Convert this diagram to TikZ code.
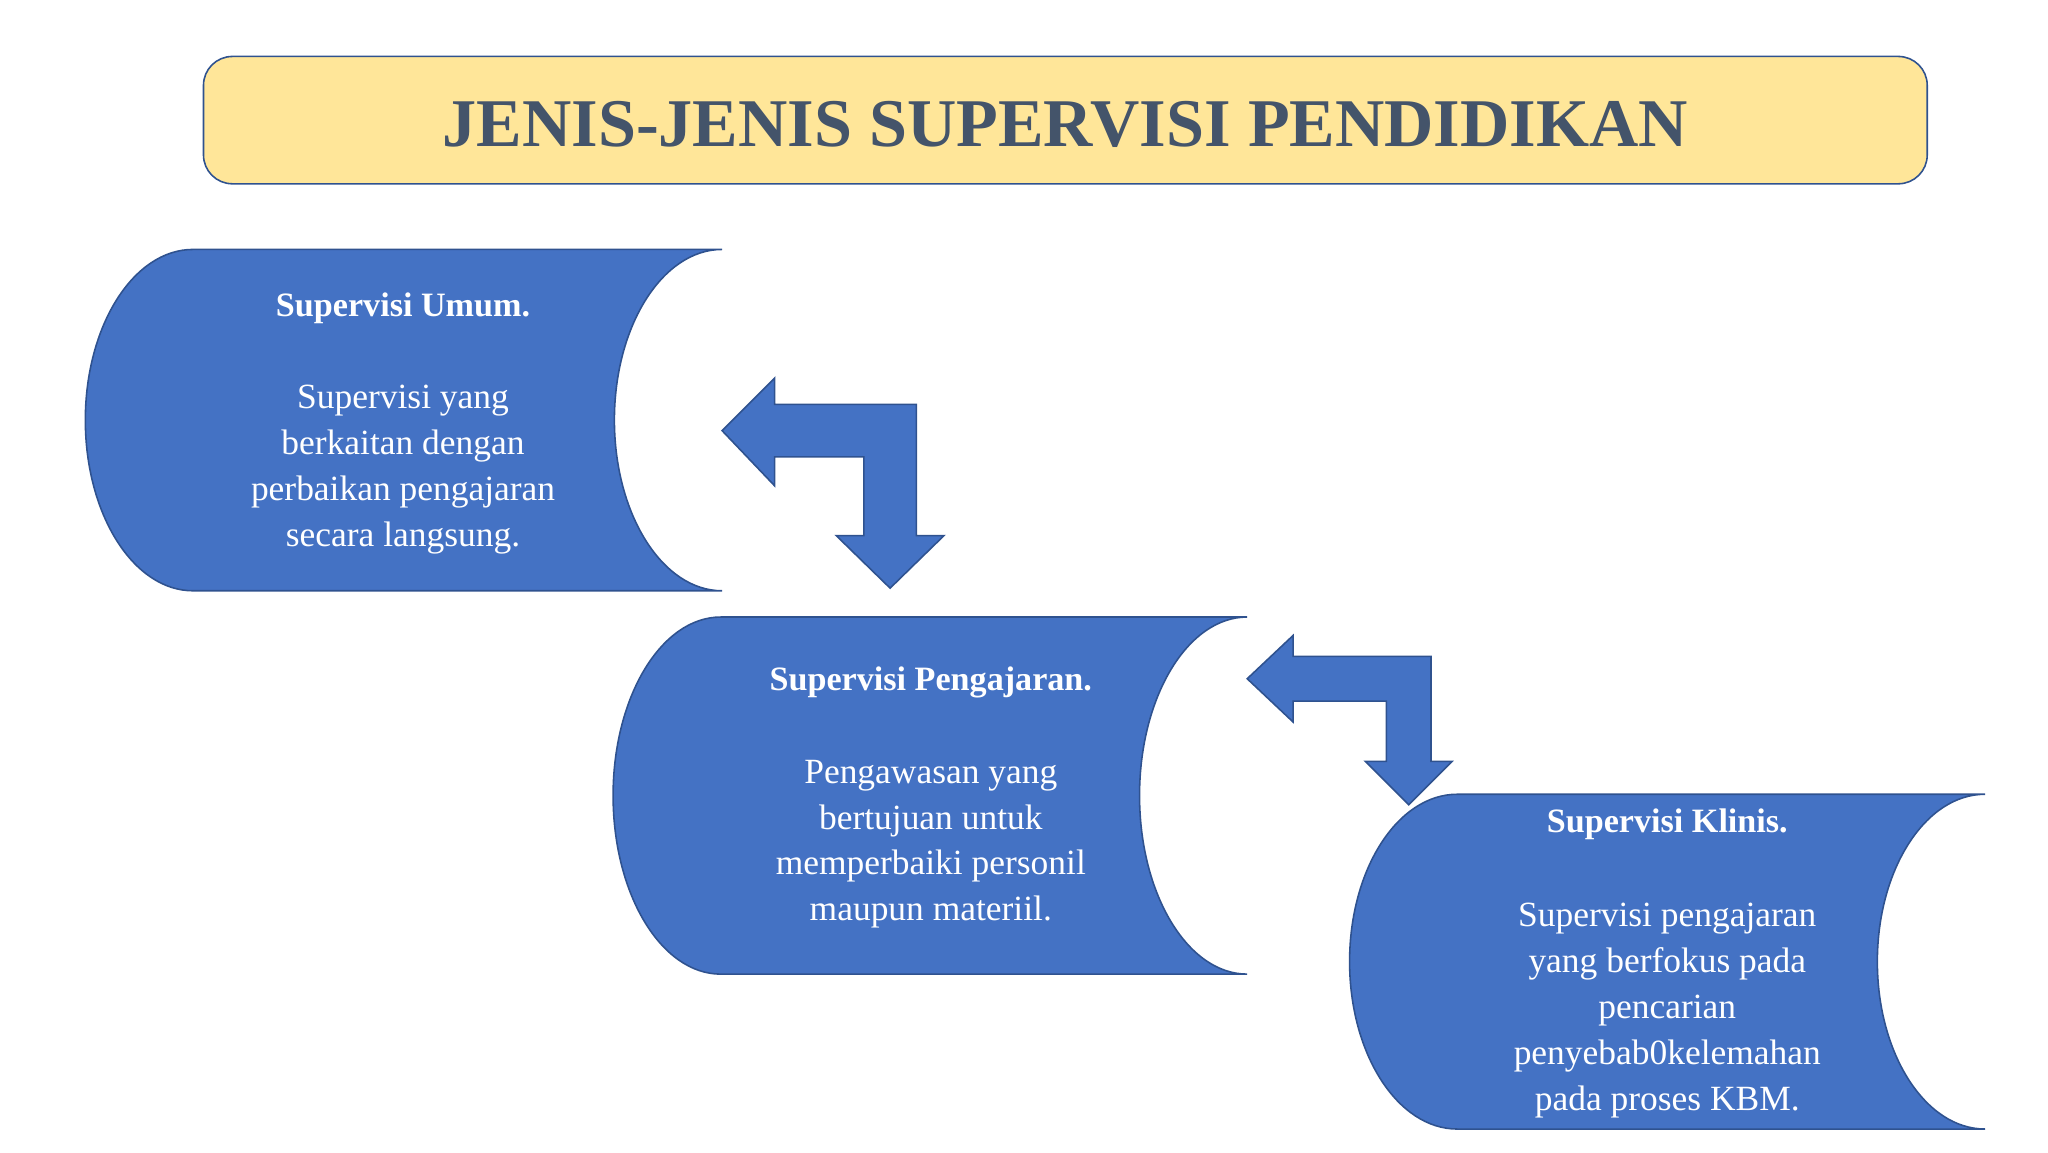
\documentclass[tikz,border=0pt]{standalone}
\usepackage{fontspec}
\setmainfont{Liberation Serif}
\definecolor{boxblue}{HTML}{4472C4}
\definecolor{edgeblue}{HTML}{2F528F}
\definecolor{titlefill}{HTML}{FFE699}
\definecolor{titletext}{HTML}{44546A}
\begin{document}
\begin{tikzpicture}[x=1pt,y=-1pt,
  shapebox/.style={fill=boxblue,draw=edgeblue,line width=1.2pt},
  bodytext/.style={text=white,align=center,font=\fontsize{27}{35}\selectfont},
  headtext/.style={text=white,font=\bfseries\fontsize{26}{32}\selectfont}]
\useasboundingbox (0,0) rectangle (1560,878);
% title
\node[draw=edgeblue,line width=1.2pt,fill=titlefill,rounded corners=22pt,minimum width=1313pt,minimum height=97pt] (title) at (811.5,91.5) {};
\node[text=titletext,font=\bfseries\fontsize{52}{56}\selectfont] (tt) at (811.5,95) {JENIS-JENIS SUPERVISI PENDIDIKAN};
% shapes
\newcommand{\storedshape}[5]{% xl, xr, yt, yb, rx
  \draw[shapebox] (#2,#3) -- (#1+#5,#3) arc[start angle=90,end angle=270,x radius=#5pt,y radius={(#4-#3)/2*1pt}]
   -- (#2,#4) arc[start angle=-90,end angle=-270,x radius=#5pt,y radius={(#4-#3)/2*1pt}] -- cycle;}
\storedshape{65}{550}{190}{450}{82}
\storedshape{467}{950}{470}{742}{82}
\storedshape{1028}{1512}{605}{860}{82}
\node[headtext] (h1) at (307,235) {Supervisi Umum.};
\node[bodytext] (b1) at (307,358) {Supervisi yang\\berkaitan dengan\\perbaikan pengajaran\\secara langsung.};
\node[headtext] (h2) at (709,520) {Supervisi Pengajaran.};
\node[bodytext] (b2) at (709,643) {Pengawasan yang\\bertujuan untuk\\memperbaiki personil\\maupun materiil.};
\node[headtext] (h3) at (1270,628) {Supervisi Klinis.};
\node[bodytext] (b3) at (1270,770) {Supervisi pengajaran\\yang berfokus pada\\pencarian\\penyebab0kelemahan\\pada proses KBM.};
% bent arrows
\draw[shapebox] (550,328) -- (590,288) -- (590,308) -- (698,308) -- (698,408) -- (719,408) -- (678,448) -- (637,408) -- (658,408) -- (658,348) -- (590,348) -- (590,370) -- cycle;
\draw[shapebox] (950,517) -- (985,484) -- (985,500) -- (1090,500) -- (1090,580) -- (1106,580) -- (1073,613) -- (1040,580) -- (1056,580) -- (1056,534) -- (985,534) -- (985,550) -- cycle;
\end{tikzpicture}
\end{document}
